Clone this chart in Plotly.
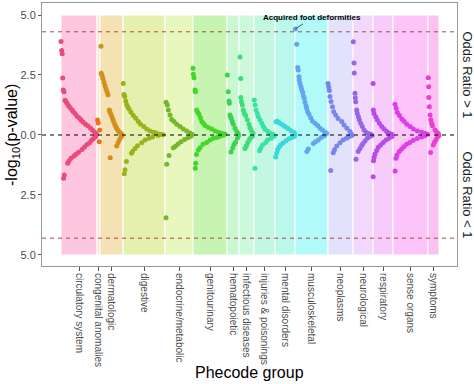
import plotly.graph_objects as go

# ---------------- data ----------------
groups = ["circulatory system", "congenital anomalies", "dermatologic", "digestive",
          "endocrine/metabolic", "genitourinary", "hematopoietic", "infectious diseases",
          "injuries & poisonings", "mental disorders", "musculoskeletal", "neoplasms",
          "neurological", "respiratory", "sense organs", "symptoms"]
# width of each group on the phecode axis (number of phecode slots)
n_codes = [36, 3, 23, 42, 28, 34, 12, 15, 21, 20, 33, 25, 20, 20, 35, 11]

point_colors = ["#EA4A7C", "#E8741E", "#D48E1C", "#98B41C", "#76B82A", "#46D62A",
                "#3ED24E", "#3EDC78", "#3AE2A2", "#3AD8DC", "#62A6F0", "#7A84EE",
                "#9A64E8", "#B84AEA", "#DE3CEC", "#EC3ED0"]
band_colors = ["#FFC6DF", "#F8E6D2", "#F4E2B4", "#E6F0AE", "#E8F7BE", "#C6F5B2",
               "#C8F8D2", "#CCF8DC", "#C2F8E2", "#BAF8EC", "#B2FAFA", "#E2E2FC",
               "#F2D8FC", "#F8CCFA", "#FCC4F8", "#FCC0F2"]

# (rank within group, signed -log10(p)) ; positive = OR > 1, negative = OR < 1
circ = [(0, 3.9), (0.7, 3.52), (1.2, 3.38), (1.7, 2.37), (2.3, 1.87), (2.6, -1.8), (3, 1.8),
        (3.3, -1.67), (4, 1.45), (5, 1.4), (6, 1.32), (6.7, -1.18), (7.5, 1.22), (8, -1.08),
        (9, 1.15), (10, -0.97), (11, 1.05), (12, 0.98), (13, -0.88), (14, 0.9), (15, -0.8),
        (16, 0.78), (17.5, -0.72), (18.5, 0.7), (20, 0.62), (21, -0.6), (22, 0.54),
        (23.5, -0.5), (24.5, 0.45), (26, -0.4), (27, 0.37), (28.5, -0.32), (29.5, 0.28),
        (30.5, -0.22), (31.5, 0.2), (32.5, -0.15), (33.5, 0.12), (34.5, -0.07), (35, 0.06),
        (35.7, 0.02)]
cong = [(0.5, 0.62), (1.2, 0.5), (2.2, -0.28), (2.7, 0.21)]
derm = [(1, 3.7), (1.3, 2.57), (2, 2.48), (3, 2.35), (4, 2.2), (5, 2.05), (6, 1.92), (7, 1.8),
        (8, 1.68), (9.3, 1.04), (10, 0.95), (10.2, -0.95), (11, 0.85), (12, 0.75), (13, 0.63),
        (14, 0.52), (15, 0.42), (16, 0.33), (16.7, -0.46), (17, 0.25), (18, -0.32),
        (18.5, 0.17), (19.5, -0.2), (20, 0.1), (21, -0.08), (21.5, 0.04), (22, -0.02)]
dig = [(0.3, 2.15), (1, 1.69), (1.3, -1.62), (1.7, 1.6), (2, -1.45), (2.7, 1.42), (3.4, -1.11),
       (3.7, 1.26), (4.7, 1.18), (6, 1.08), (8, 0.95), (8.5, -0.76), (9.5, -0.69), (10.3, 0.81),
       (12, -0.56), (12.7, 0.7), (14.5, -0.45), (15.3, 0.56), (17.5, 0.45), (18.7, -0.32),
       (20.7, 0.35), (22, -0.21), (23.7, 0.25), (26, -0.14), (27, 0.17), (29.5, -0.08),
       (30.3, 0.11), (32, 0.09), (33.7, 0.07), (35, -0.02), (37, 0.03), (40, 0.01)]
endo = [(1, -3.45), (1.1, 1.36), (1.7, -1.22), (2.3, 1.25), (3.3, 1.04), (4, -0.86), (5, 0.83),
        (6.7, 0.65), (8.3, -0.53), (9, 0.56), (10.5, -0.47), (11.7, 0.45), (13, -0.38),
        (15, 0.35), (16, -0.28), (18.3, 0.25), (19.5, -0.19), (21.7, 0.17), (23, -0.12),
        (25, 0.08), (26, -0.05), (27, 0.03)]
genito = [(0, 2.78), (0.3, 2.53), (1, 2.39), (2, 1.875), (2.3, -1.39), (2.5, 1.8), (2.7, -1.18),
          (3.5, -0.81), (3.7, 1.04), (4.7, 0.95), (5.3, -0.63), (6, 0.86), (7, -0.53),
          (7.5, 0.72), (8.7, 0.56), (10, -0.39), (10.3, 0.49), (12, 0.39), (13.7, -0.31),
          (15.3, 0.31), (17, -0.21), (18.7, 0.25), (20.3, -0.14), (22, 0.17), (23.7, -0.1),
          (25.3, 0.11), (27, -0.05), (28.7, 0.07), (30.3, -0.01), (32, 0.04)]
hema = [(0.3, 2.5), (1.3, 1.8), (2, 1.42), (2.3, 1.32), (3, 0.83), (3.5, 0.76), (4, -0.71),
        (4.3, 0.7), (5.3, 0.56), (5.7, -0.54), (6.3, 0.45), (7, -0.4), (8, 0.28), (8.5, -0.3),
        (9.7, 0.14), (10.3, -0.14), (11, 0.07), (11.5, -0.03)]
infect = [(1, 3.25), (1.7, 2.35), (1.8, 1.56), (2.5, 1.39), (3.3, 1.25), (4.3, 1.04), (5.3, 0.9),
          (6, -0.56), (6.7, 0.81), (7.5, -0.45), (8.3, 0.63), (8.7, -0.31), (10, 0.45),
          (10.3, -0.2), (11, 0.3), (11.7, -0.12), (12.5, 0.18), (13.5, -0.05), (14, 0.07)]
injur = [(0.3, 1.46), (1, -1.39), (1.1, 1.25), (2, 1.04), (3.3, 0.9), (4.3, 0.76), (5.5, -0.66),
         (6, 0.63), (6.7, -0.55), (7.7, 0.49), (8.5, -0.42), (9.3, 0.35), (11, 0.24),
         (11.7, -0.31), (13.5, -0.21), (14, 0.14), (16, 0.07), (17, -0.14), (19, 0.03),
         (20, -0.05)]
mental = [(0.7, -0.92), (1, 0.55), (1.7, -0.75), (2, 0.57), (2.7, -0.6), (3.5, 0.53), (4, -0.5),
          (5, 0.49), (5.7, -0.42), (7.5, 0.43), (8, -0.33), (10, 0.35), (11, -0.24), (13, 0.27),
          (14, -0.16), (16, 0.18), (17, -0.1), (19, 0.1), (19.5, -0.05), (19.8, 0.05)]
musc = [(0.3, 4.42), (1.7, 3.78), (2.7, 2.81), (3.3, 2.71), (4, 2.43), (4.3, 2.29), (5, 2.15),
        (6, 2.01), (6.7, 1.88), (7.7, 1.78), (8.3, 1.64), (9.3, 1.53), (10, 1.36), (11, 1.22),
        (11.7, 1.11), (11.9, -0.69), (12.7, 0.97), (13.3, -0.58), (14, 0.86), (15.7, 0.72),
        (17.3, 0.58), (18.3, -0.35), (20, 0.49), (20.5, -0.28), (22.7, 0.39), (23.3, -0.21),
        (25, 0.28), (26.3, -0.11), (27.5, 0.21), (29.5, -0.03), (30, 0.11), (31.7, 0.06)]
neo = [(0, 2.15), (0.7, 2.0), (1.3, 1.85), (2, 1.6), (2.7, -1.48), (3, 1.4), (4.5, 1.18),
       (5.3, -0.74), (5.7, 0.97), (6.5, -0.62), (7.7, 0.83), (8.7, -0.46), (10, 0.69),
       (12, -0.32), (13.7, 0.56), (15, -0.21), (16, 0.42), (18.5, -0.14), (18.9, 0.28),
       (21, -0.07), (22, 0.14), (23.5, 0.04), (24, -0.02)]
neuro = [(0.3, 3.88), (1, 3.0), (1.3, 2.58), (2, 1.74), (2.3, 1.55), (2.7, 1.39), (3, -1.01),
         (3.7, 1.04), (4.3, 0.9), (5.2, -0.69), (5.4, 0.76), (6.3, 0.63), (7, -0.56), (7.7, 0.49),
         (8.7, -0.44), (9.3, 0.35), (10, -0.35), (11, 0.21), (12, -0.25), (13, 0.11),
         (14.3, -0.14), (15.3, 0.06), (16.3, -0.07), (17.7, 0.03), (19, -0.02)]
resp = [(0.1, 2.15), (0.2, -1.74), (0.4, 1.04), (0.5, -1.07), (1, 0.9), (1.1, -0.93), (2, -0.79),
        (2.7, 0.76), (3.7, -0.65), (4.3, 0.63), (5.3, -0.51), (6.3, 0.49), (7.7, -0.42),
        (8.7, 0.35), (10.3, -0.31), (11, 0.25), (13, -0.21), (13.7, 0.14), (16, -0.14),
        (16.3, 0.07), (18.7, 0.03), (19, -0.06)]
sense = [(2, 1.28), (2.1, -1.5), (3, -0.97), (3.1, 1.11), (4, -0.83), (4.3, 0.94), (6.2, -0.69),
         (6.4, 0.81), (8.6, -0.58), (8.8, 0.67), (10.9, -0.49), (11.1, 0.57), (13.6, -0.39),
         (13.8, 0.45), (16.9, -0.31), (17.1, 0.35), (20.2, -0.22), (20.4, 0.25), (24.2, -0.15),
         (24.4, 0.17), (28.6, -0.08), (28.8, 0.11), (31.9, -0.03), (32.1, 0.06), (34.3, 0.03)]
sympt = [(0.3, 2.39), (0.6, 2.01), (0.8, 1.56), (1.3, 1.18), (2, 0.83), (2.6, -0.73), (2.8, 0.63),
         (3.7, 0.49), (4.5, 0.38), (5.3, -0.42), (6.5, -0.3), (7, 0.21), (8, -0.2), (8.7, 0.11),
         (9.5, -0.08), (10.3, 0.06), (10.8, -0.03)]

group_points = [circ, cong, derm, dig, endo, genito, hema, infect, injur, mental, musc, neo,
                neuro, resp, sense, sympt]

bonferroni = 4.3            # -log10(0.05 / number of tests)
y_ticks = [-5, -2.5, 0, 2.5, 5]
y_tick_text = ["5.0", "2.5", "0.0", "2.5", "5.0"]
highlight_label = "Acquired foot deformities"
highlight_group = 10        # musculoskeletal, top hit

# ---------------- figure ----------------
FONT = "Liberation Sans, Arial, Helvetica, sans-serif"
starts = []
s = 0
for n in n_codes:
    starts.append(s)
    s += n
centers = [st + n / 2 for st, n in zip(starts, n_codes)]

fig = go.Figure()
shapes = []
for st, n, bc in zip(starts, n_codes, band_colors):
    shapes.append(dict(type="rect", xref="x", yref="y", x0=st, x1=st + n, y0=-5, y1=5,
                       fillcolor=bc, line=dict(color="white", width=1), layer="below"))
for yv, col in [(bonferroni, "#A84A44"), (-bonferroni, "#A84A44")]:
    shapes.append(dict(type="line", xref="paper", yref="y", x0=0, x1=1, y0=yv, y1=yv,
                       line=dict(color=col, width=1, dash="4px,4px"), layer="above"))
shapes.append(dict(type="line", xref="paper", yref="y", x0=0, x1=1, y0=0, y1=0,
                   line=dict(color="black", width=1.1, dash="4px,4px"), layer="above"))

for g, st, pts, col in zip(groups, starts, group_points, point_colors):
    fig.add_trace(go.Scatter(
        x=[st + r for r, v in pts], y=[v for r, v in pts], mode="markers", name=g,
        marker=dict(size=5, color=col, line=dict(width=0)), showlegend=False))

hp = group_points[highlight_group][0]
annotations = [
    dict(x=starts[highlight_group] + hp[0], y=hp[1], xref="x", yref="y",
         text="<b>" + highlight_label + "</b>", showarrow=True, arrowhead=0,
         arrowwidth=0.8, arrowcolor="#333333", ax=17, ay=-11,
         font=dict(size=8, color="black", family=FONT)),
    dict(x=1, y=2.5, xref="paper", yref="y", text="Odds Ratio > 1", showarrow=False,
         textangle=90, xanchor="left", xshift=1, font=dict(size=13, color="#1A1A1A", family=FONT)),
    dict(x=1, y=-2.5, xref="paper", yref="y", text="Odds Ratio < 1", showarrow=False,
         textangle=90, xanchor="left", xshift=1, font=dict(size=13, color="#1A1A1A", family=FONT)),
    dict(x=0, y=0, xref="paper", yref="y", text="-log<sub>10</sub>(p-value)", showarrow=False,
         textangle=-90, xanchor="center", xshift=-29, font=dict(size=16, color="black", family=FONT)),
    dict(x=0.5, y=0, xref="paper", yref="paper", text="Phecode group", showarrow=False,
         yanchor="middle", yshift=-106, font=dict(size=16, color="black", family=FONT)),
]

fig.update_layout(
    width=474, height=384, margin=dict(l=42, r=17, t=3, b=118),
    paper_bgcolor="white", plot_bgcolor="white",
    shapes=shapes, annotations=annotations,
    font=dict(family=FONT),
    xaxis=dict(range=[-19, 396], tickvals=centers, ticktext=groups, tickangle=90,
               ticks="outside", ticklen=4, tickcolor="#555555", showgrid=False, zeroline=False,
               showline=True, linecolor="#999999", linewidth=1, mirror=True,
               tickfont=dict(size=10, color="#4D4D4D")),
    yaxis=dict(range=[-5.46, 5.5], tickvals=y_ticks, ticktext=y_tick_text,
               ticks="outside", ticklen=3, tickcolor="#555555", showgrid=False, zeroline=False,
               showline=True, linecolor="#999999", linewidth=1, mirror=True,
               tickfont=dict(size=11, color="#4D4D4D")),
)
fig.write_html("out.html")
